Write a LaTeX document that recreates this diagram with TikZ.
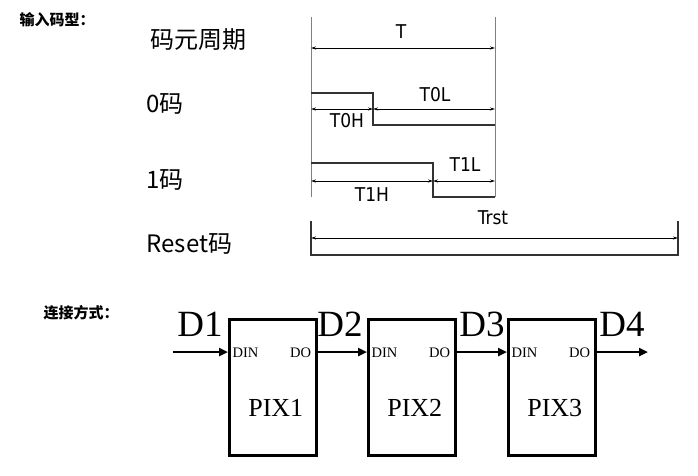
\documentclass[tikz,border=0pt]{standalone}
\usepackage{fontspec}
\setmainfont{Liberation Serif}
\newfontfamily\cjk{Noto Sans CJK SC}
\newfontfamily\cond{DejaVu Sans Condensed}
\usetikzlibrary{arrows.meta}
\begin{document}
\begin{tikzpicture}[x=1pt,y=-1pt,
  dim/.style={line width=0.9pt,{Stealth[length=5pt,width=3pt]}-{Stealth[length=5pt,width=3pt]}},
  wave/.style={line width=1.1pt,black!80},
  guide/.style={line width=1pt,gray},
  tl/.style={font=\cond\fontsize{19}{19}\selectfont},
  cl/.style={font=\cjk\fontsize{24}{24}\selectfont,anchor=west},
  box/.style={draw,line width=2.6pt,minimum width=87pt,minimum height=136pt,anchor=north west},
  sig/.style={line width=2.6pt,-{Triangle[length=9pt,width=8pt]}},
  dl/.style={font=\fontsize{37}{37}\selectfont},
  pl/.style={font=\fontsize{14.5}{14.5}\selectfont}]
\useasboundingbox (0,0) rectangle (698,475);
\node[font=\cjk\bfseries\fontsize{15}{15}\selectfont,anchor=west] (h1) at (16,20) {输入码型：};
\node[cl] (c0) at (147,40) {码元周期};
\node[cl] (c1) at (143,104) {0码};
\node[cl] (c2) at (143,180) {1码};
\node[cl] (c3) at (143,244) {Reset码};
% guides
\coordinate (gl1) at (311,17); \coordinate (gl2) at (311,197);
\coordinate (gr1) at (495,17); \coordinate (gr2) at (495,197);
\draw[guide] (gl1) -- (gl2); \draw[guide] (gr1) -- (gr2);
% T
\coordinate (ta) at (311,48); \coordinate (tb) at (495,48);
\draw[dim] (ta) -- (tb);
\node[tl] (T) at (401,32) {T};
% 0 code
\draw[wave] (311,93) -- (373,93) -- (373,125) -- (495,125);
\coordinate (za) at (311,109); \coordinate (zm) at (373,109); \coordinate (zb) at (495,109);
\draw[dim] (za) -- (zm); \draw[dim] (zm) -- (zb);
\node[tl] (t0l) at (435,95) {T0L};
\node[tl] (t0h) at (347,121) {T0H};
% 1 code
\draw[wave] (311,163) -- (433,163) -- (433,197) -- (495,197);
\coordinate (oa) at (311,181); \coordinate (om) at (433,181); \coordinate (ob) at (495,181);
\draw[dim] (oa) -- (om); \draw[dim] (om) -- (ob);
\node[tl] (t1l) at (465,165) {T1L};
\node[tl] (t1h) at (372,195) {T1H};
% reset
\draw[wave] (311,221) -- (311,255) -- (678,255) -- (678,221);
\coordinate (ra) at (311,238); \coordinate (rb) at (678,238);
\draw[dim] (ra) -- (rb);
\node[tl] (trst) at (493,218) {Trst};
% connection
\node[font=\cjk\bfseries\fontsize{15}{15}\selectfont,anchor=west] (h2) at (40,313) {连接方式：};
\node[box] (p1) at (228,318) {};
\node[box] (p2) at (367,318) {};
\node[box] (p3) at (507,318) {};
\foreach \p/\n in {p1/1,p2/2,p3/3}{
  \node[pl,anchor=west] at ([xshift=1pt]\p.west |- 0,353) {DIN};
  \node[pl,anchor=east] at ([xshift=-3pt]\p.east |- 0,353) {DO};
  \node[font=\fontsize{26}{26}\selectfont] at ([xshift=3pt,yshift=-21pt]\p.center) {PIX\n};
}
\coordinate (s0) at (173,352); \coordinate (s4) at (648,352);
\draw[sig] (s0) -- (p1.west |- s0);
\draw[sig] (p1.east |- s0) -- (p2.west |- s0);
\draw[sig] (p2.east |- s0) -- (p3.west |- s0);
\draw[sig] (p3.east |- s0) -- (s4);
\node[dl] (d1) at (200,324) {D1};
\node[dl] (d2) at (340,324) {D2};
\node[dl] (d3) at (482,324) {D3};
\node[dl] (d4) at (622,324) {D4};
\end{tikzpicture}
\end{document}
